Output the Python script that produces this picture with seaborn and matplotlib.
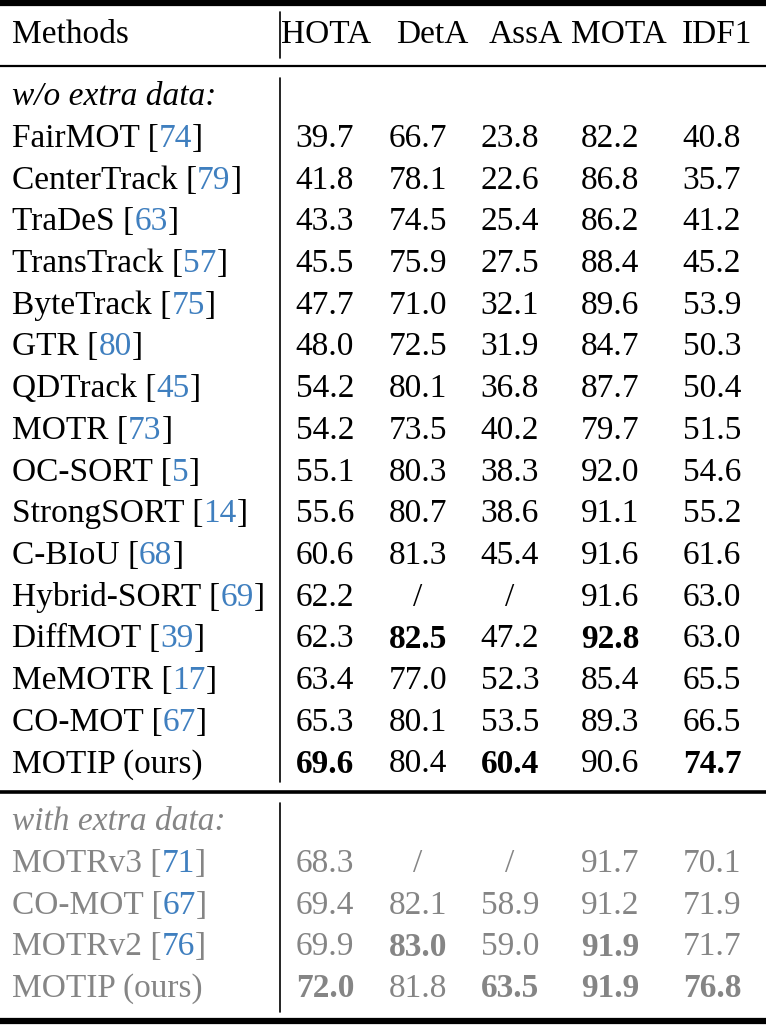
import matplotlib
matplotlib.use("Agg")
import matplotlib.pyplot as plt
import seaborn as sns

sns.set_theme(style="white")
plt.rcParams['font.family'] = ['Liberation Serif', 'DejaVu Serif']
plt.rcParams['text.color'] = 'black'

columns = ["HOTA", "DetA", "AssA", "MOTA", "IDF1"]

methods_a = ["FairMOT", "CenterTrack", "TraDeS", "TransTrack", "ByteTrack", "GTR",
             "QDTrack", "MOTR", "OC-SORT", "StrongSORT", "C-BIoU", "Hybrid-SORT",
             "DiffMOT", "MeMOTR", "CO-MOT", "MOTIP (ours)"]
cites_a = ["74", "79", "63", "57", "75", "80", "45", "73", "5", "14", "68", "69",
           "39", "17", "67", None]
values_a = [
    ["39.7", "66.7", "23.8", "82.2", "40.8"],
    ["41.8", "78.1", "22.6", "86.8", "35.7"],
    ["43.3", "74.5", "25.4", "86.2", "41.2"],
    ["45.5", "75.9", "27.5", "88.4", "45.2"],
    ["47.7", "71.0", "32.1", "89.6", "53.9"],
    ["48.0", "72.5", "31.9", "84.7", "50.3"],
    ["54.2", "80.1", "36.8", "87.7", "50.4"],
    ["54.2", "73.5", "40.2", "79.7", "51.5"],
    ["55.1", "80.3", "38.3", "92.0", "54.6"],
    ["55.6", "80.7", "38.6", "91.1", "55.2"],
    ["60.6", "81.3", "45.4", "91.6", "61.6"],
    ["62.2", "/", "/", "91.6", "63.0"],
    ["62.3", "82.5", "47.2", "92.8", "63.0"],
    ["63.4", "77.0", "52.3", "85.4", "65.5"],
    ["65.3", "80.1", "53.5", "89.3", "66.5"],
    ["69.6", "80.4", "60.4", "90.6", "74.7"],
]
bold_a = {(12, 1), (12, 3), (15, 0), (15, 2), (15, 4)}

methods_b = ["MOTRv3", "CO-MOT", "MOTRv2", "MOTIP (ours)"]
cites_b = ["71", "67", "76", None]
values_b = [
    ["68.3", "/", "/", "91.7", "70.1"],
    ["69.4", "82.1", "58.9", "91.2", "71.9"],
    ["69.9", "83.0", "59.0", "91.9", "71.7"],
    ["72.0", "81.8", "63.5", "91.9", "76.8"],
]
bold_b = {(2, 1), (2, 3), (3, 0), (3, 2), (3, 3), (3, 4)}

W, H = 766, 1026
FS = 24
CITE = "#3f7fbf"
GREY = "#858585"
head_x = [326, 432, 526, 619, 717]
val_x = [325, 418, 510, 610, 712]
step = 41.7

fig = plt.figure(figsize=(W / 100, H / 100), dpi=100)
ax = fig.add_axes([0, 0, 1, 1])
ax.set_xlim(0, W)
ax.set_ylim(H, 0)
ax.axis("off")
renderer = fig.canvas.get_renderer()


def method_label(y, name, cite, color):
    t = ax.text(12, y, name + (" [" if cite else ""), fontsize=FS, color=color, va="center")
    if not cite:
        return
    bb = t.get_window_extent(renderer)
    x1 = ax.transData.inverted().transform((bb.x1, 0))[0]
    t2 = ax.text(x1, y, cite, fontsize=FS, color=CITE, va="center")
    bb2 = t2.get_window_extent(renderer)
    x2 = ax.transData.inverted().transform((bb2.x1, 0))[0]
    ax.text(x2, y, "]", fontsize=FS, color=color, va="center")


def section(y0, label, methods, cites, values, bold, color):
    ax.text(12, y0, label, fontsize=FS, color=color, va="center", style="italic")
    for i, (m, c, row) in enumerate(zip(methods, cites, values)):
        y = y0 + step * (i + 1)
        method_label(y, m, c, color)
        for j, v in enumerate(row):
            ax.text(val_x[j], y, v, fontsize=FS, color=color, ha="center", va="center",
                    weight="bold" if (i, j) in bold else "normal")


# header
ax.text(12, 35, "Methods", fontsize=FS, color="black", va="center")
for x, c in zip(head_x, columns):
    ax.text(x, 35, c, fontsize=FS, color="black", ha="center", va="center")

section(97, "w/o extra data:", methods_a, cites_a, values_a, bold_a, "black")
section(822, "with extra data:", methods_b, cites_b, values_b, bold_b, GREY)

# rules
ax.plot([0, W], [3, 3], color="black", lw=4.5)
ax.plot([0, W], [66, 66], color="black", lw=1.6)
ax.plot([0, W], [792, 792], color="black", lw=2.6)
ax.plot([0, W], [1021, 1021], color="black", lw=4.5)
for ya, yb in [(12, 58), (78, 782), (803, 1012)]:
    ax.plot([280, 280], [ya, yb], color="black", lw=1.2)

fig.savefig("out.png", dpi=100)
